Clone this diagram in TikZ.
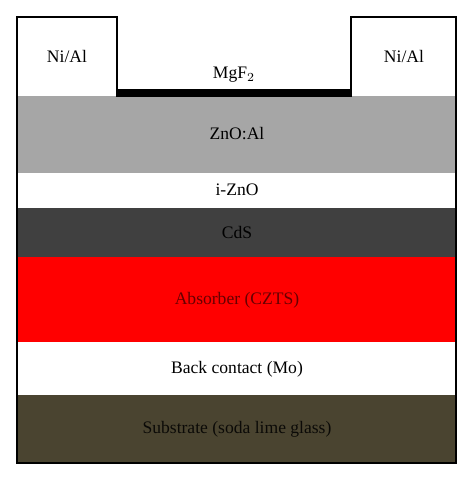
\documentclass[tikz,border=0pt]{standalone}
\usepackage{fontspec}
\setmainfont{Liberation Serif}
\usepackage{tikz}
\definecolor{znoal}{RGB}{166,166,166}
\definecolor{cds}{RGB}{64,64,64}
\definecolor{czts}{RGB}{255,0,0}
\definecolor{glass}{RGB}{74,68,48}
\tikzset{
  font={\fontsize{10pt}{12}\selectfont}}

\begin{document}
\begin{tikzpicture}[x=0.02cm,y=-0.02cm]
\tikzstyle{every node}+=[inner sep=0pt]
\useasboundingbox (0,0) rectangle (474,481);
% layers
\fill [znoal] (17,96) rectangle (456,173);
\fill [white] (17,173) rectangle (456,208);
\fill [cds] (17,208) rectangle (456,257);
\fill [czts] (17,257) rectangle (456,342);
\fill [white] (17,342) rectangle (456,395);
\fill [glass] (17,395) rectangle (456,463);
\fill [black] (117,89) rectangle (351,96);
% outline
\draw [black, line width=0.6pt] (17,463) -- (17,17) -- (117,17) -- (117,96) -- (351,96) -- (351,17) -- (456,17) -- (456,463) -- cycle;
% labels
\node (nial1) at (67,56) {Ni/Al};
\node (nial2) at (404,56) {Ni/Al};
\node (mgf) at (234,75) {MgF$_2$};
\node (zno) at (237,134) {ZnO:Al};
\node (izno) at (237,190) {i-ZnO};
\node (cdsl) at (237,232) {CdS};
\node [text=black!60!red] (abs) at (237,300) {Absorber (CZTS)};
\node (mo) at (237,369) {Back contact (Mo)};
\node [text=black!85!glass] (sub) at (237,429) {Substrate (soda lime glass)};
\end{tikzpicture}
\end{document}
